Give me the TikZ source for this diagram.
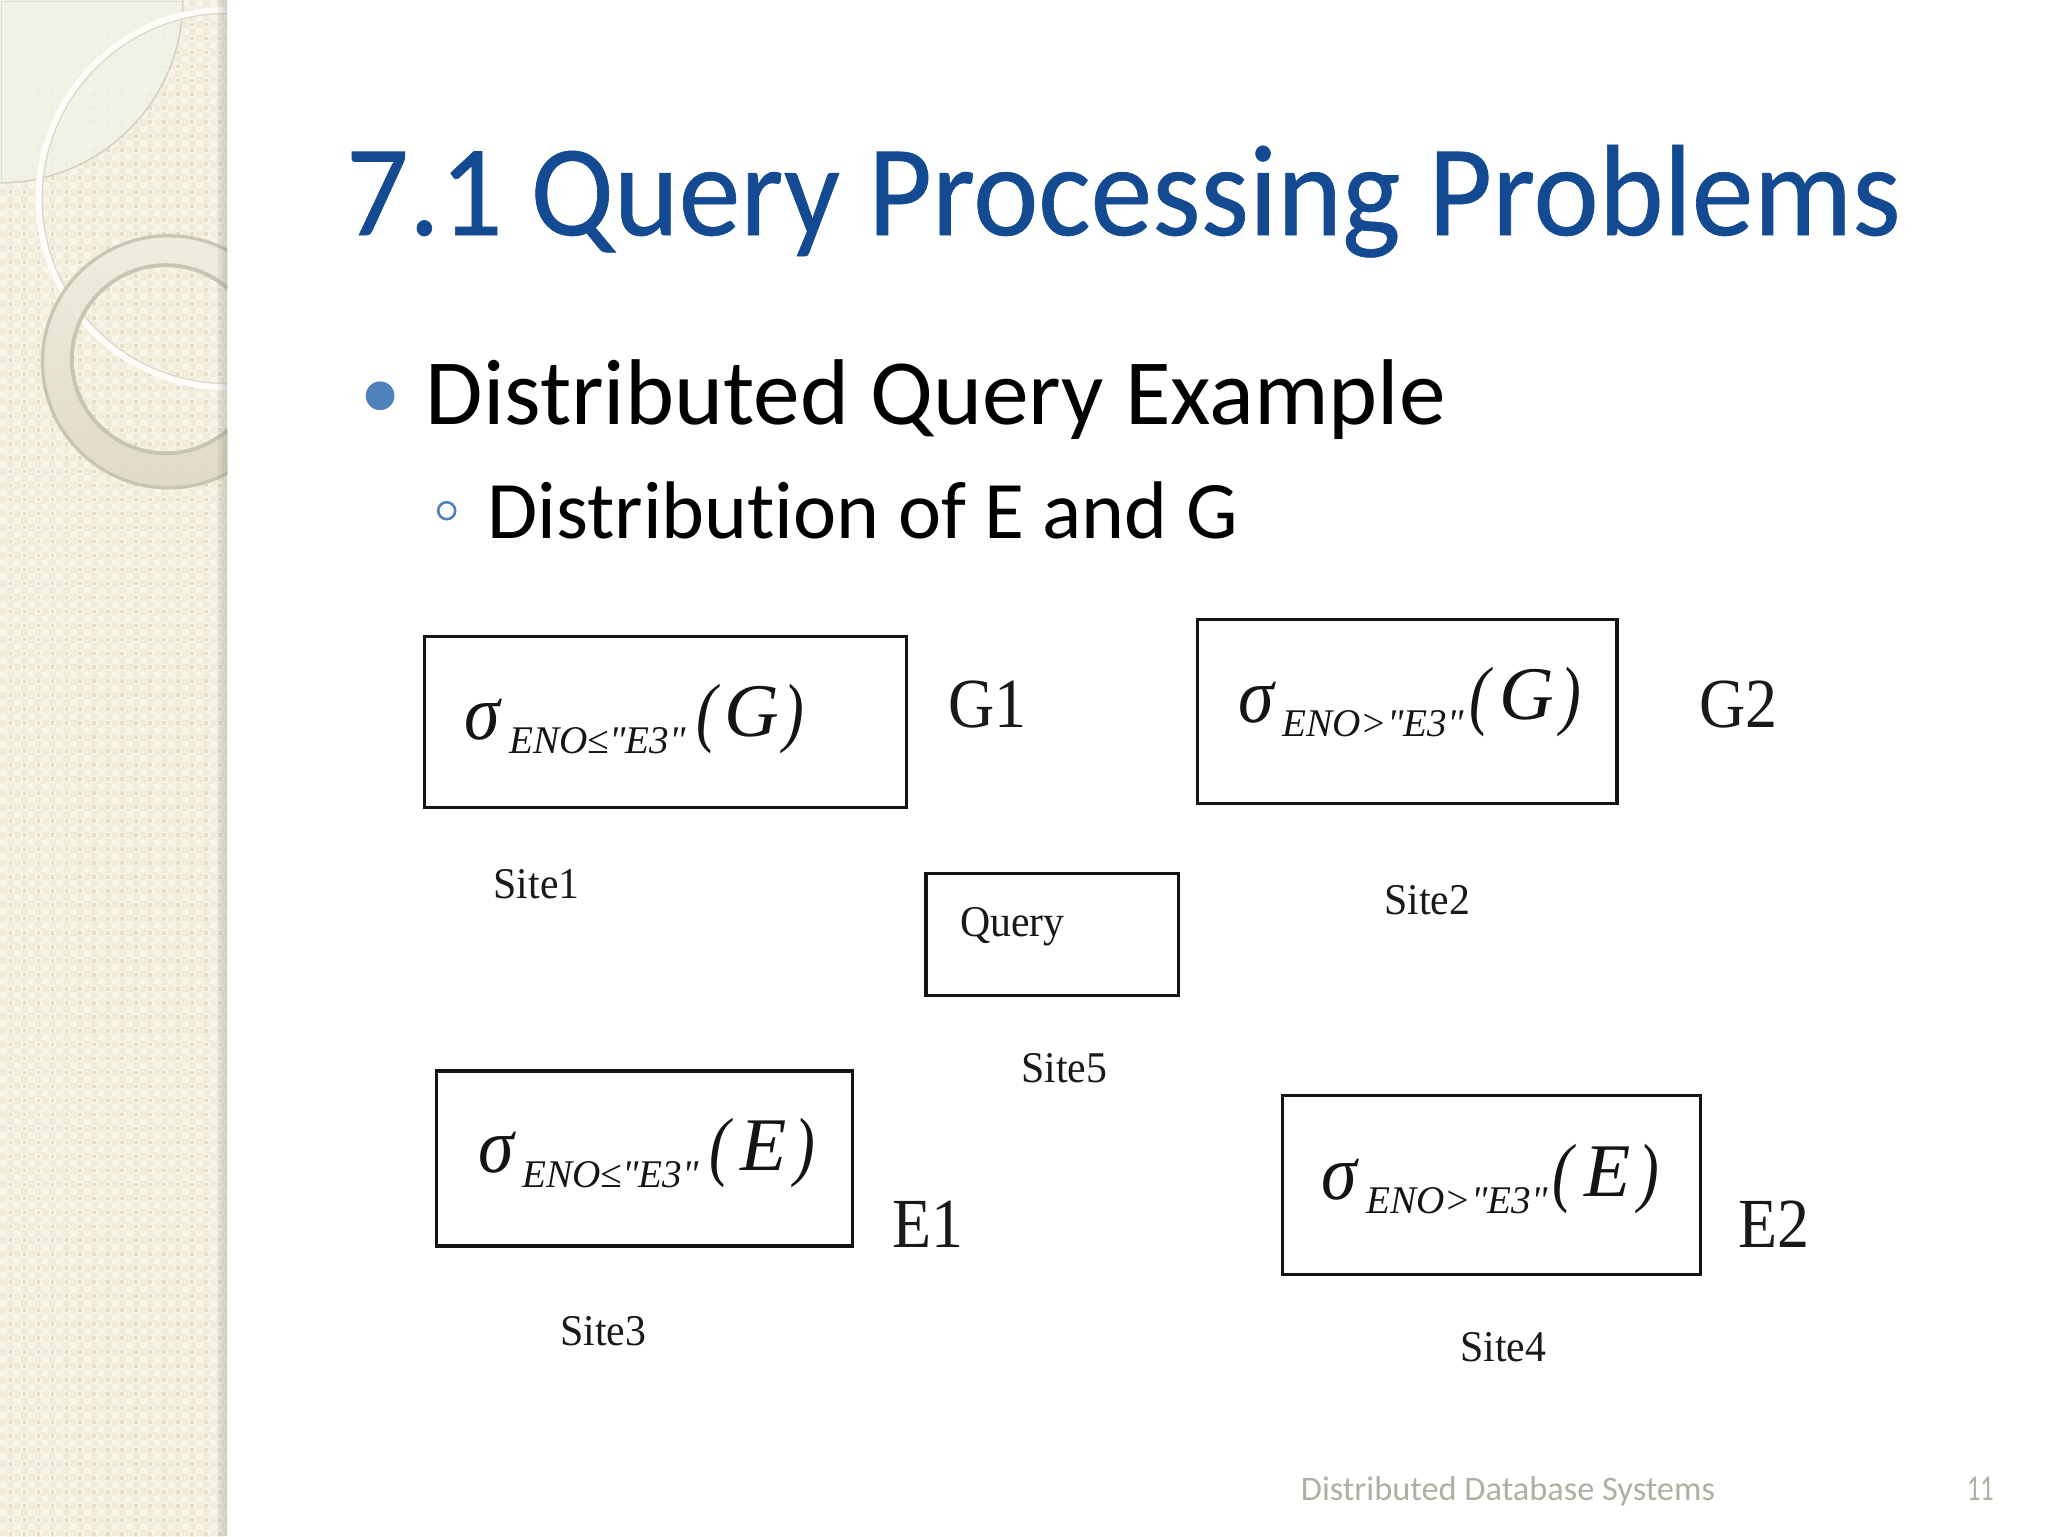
\documentclass[tikz,border=0pt]{standalone}
\usepackage{fontspec}
\usepackage{graphicx}
\setmainfont{Liberation Serif}
\newfontfamily\plainserif{Liberation Serif}
\newfontfamily\gill[Ligatures=NoCommon]{Carlito}
\newfontfamily\gillbold[Ligatures=NoCommon,FakeBold=0.5]{Carlito}
\definecolor{titleblue}{HTML}{144A92}
\definecolor{bulletblue}{HTML}{4F81BD}
\definecolor{footgray}{HTML}{B1AFA1}
\definecolor{bandbase}{HTML}{F1EBD9}
\definecolor{bandlight}{HTML}{F8F4E7}
\definecolor{banddark}{HTML}{E4DEC8}
\definecolor{ringedge}{HTML}{C8C6B3}
\definecolor{discfill}{HTML}{F0F3E7}
\newcommand{\selform}[4]{%
  \plainserif
  \makebox[34pt][l]{\raisebox{-2pt}{\scalebox{.92}[1]{\fontsize{60}{60}\selectfont\itshape σ}}}%
  \raisebox{-13pt}{\makebox[143pt][l]{\fontsize{30}{30}\selectfont\itshape #1}}%
  \raisebox{-1pt}{\scalebox{.85}[1.05]{\fontsize{56}{56}\selectfont\itshape (}}%
  \hspace{#3}{\fontsize{58}{58}\selectfont\itshape #2}\hspace{#4}%
  \raisebox{-1pt}{\scalebox{.85}[1.05]{\fontsize{56}{56}\selectfont\itshape )}}}
\tikzset{
  frame/.style={draw=black!92,line width=2.4pt,anchor=north west,inner sep=0pt,outer sep=0pt,fill=white},
  txt/.style={anchor=base west,inner sep=0pt,outer sep=0pt},
  sitelabel/.style={txt,font=\fontsize{32}{32}\selectfont,text=black!90},
  biglabel/.style={txt,font=\fontsize{49}{49}\selectfont,text=black!90},
  formula/.style={txt,text=black!92},
}
\newcommand{\tall}[1]{\scalebox{1}[1.1]{#1}}
\newcommand{\slight}[1]{\scalebox{1}[1.05]{#1}}
\begin{document}
\begin{tikzpicture}[x=1pt,y=-1pt]
\useasboundingbox (0,0) rectangle (1568,1176);
\fill[white] (0,0) rectangle (1568,1176);
% patterned band
\fill[bandbase] (0,0) rectangle (174,1176);
\begin{scope}
\clip (0,0) rectangle (174,1176);
\foreach \i in {0,...,16}{
  \foreach \j in {0,...,110}{
    \pgfmathsetmacro{\px}{\i*10.7}
    \pgfmathsetmacro{\py}{\j*10.7}
    \fill[bandlight] (\px,\py) rectangle ++(5.35,5.35);
    \fill[bandlight] (\px+5.35,\py+5.35) rectangle ++(5.35,5.35);
    \fill[banddark] (\px+6.6,\py+6.6) rectangle ++(2.8,2.8);
  }
}
% quarter disc, top-left
\fill[fill=discfill,fill opacity=.8] (0,0) -- (140,0) arc[start angle=0,end angle=90,radius=140] -- cycle;
\draw[ringedge!80,line width=1.2pt] (140,0) arc[start angle=0,end angle=90,radius=140];
\draw[ringedge!60,line width=1.2pt] (1,140) -- (1,1) -- (140,1);
% thin ring
\draw[ringedge!70,line width=1.2pt] (174,152) circle[radius=141.8];
\draw[color=white!80!bandlight,line width=4.5pt] (174,152) circle[radius=144.5];
% wide ring
\shade[even odd rule,top color=white!45!banddark,bottom color=banddark!95!gray,opacity=.92]
  (129,277) circle[radius=97] (127,275) circle[radius=72];
\draw[ringedge,line width=2.5pt] (129,277) circle[radius=96.5];
\draw[ringedge,line width=3pt] (127,275) circle[radius=72];
% edge shade
\foreach \k in {0,...,7}{
  \fill[gray,opacity=.045] (166+\k,0) rectangle (174,1176);
}
\end{scope}
% title
\node[txt,text=titleblue] (title) at (265,180) {\scalebox{1}[1.05]{\resizebox{1190pt}{!}{\gillbold\fontsize{92}{92}\selectfont 7.1 Query Processing Problems}}};
% bullets
\fill[bulletblue] (291,303) circle[radius=11];
\node[txt,text=black] (l1) at (326,325) {\resizebox{781pt}{!}{\gill\fontsize{68}{68}\selectfont Distributed Query Example}};
\draw[bulletblue,line width=2pt] (342,391) circle[radius=6.5];
\node[txt,text=black] (l2) at (373,412) {\resizebox{575pt}{!}{\gill\fontsize{60}{60}\selectfont Distribution of E and G}};
% boxes
\node[frame,minimum width=369pt,minimum height=131pt] (b1) at (325,487) {};
\node[frame,minimum width=321pt,minimum height=141pt] (b2) at (917,474) {};
\node[frame,minimum width=319pt,minimum height=134pt] (b3) at (334,820) {};
\node[frame,minimum width=320pt,minimum height=137pt] (b4) at (982,839) {};
\node[frame,minimum width=193pt,minimum height=93pt]  (q)  at (709,669) {};
% formulas
\node[formula] (f1) at (356,564) {\selform{ENO≤"E3"}{G}{6pt}{3pt}};
\node[formula] (f2) at (948,551) {\selform{ENO>"E3"}{G}{7pt}{5pt}};
\node[formula] (f3) at (366,896) {\selform{ENO≤"E3"}{E}{8pt}{6pt}};
\node[formula] (f4) at (1012,916) {\selform{ENO>"E3"}{E}{8pt}{6pt}};
% labels
\node[biglabel] (g1) at (726,557) {\tall{G1}};
\node[biglabel] (g2) at (1301,557) {\tall{G2}};
\node[biglabel] (e1) at (683,955) {\tall{E1}};
\node[biglabel] (e2) at (1331,955) {\tall{E2}};
\node[sitelabel] (s1) at (378,688) {\slight{Site1}};
\node[sitelabel] (s2) at (1060,700) {\slight{Site2}};
\node[sitelabel] (s3) at (429,1030) {\slight{Site3}};
\node[sitelabel] (s4) at (1118,1042) {\slight{Site4}};
\node[sitelabel] (s5) at (782,829) {\slight{Site5}};
\node[sitelabel] (qt) at (735,717) {\slight{Query}};
% footer
\node[txt,text=footgray] (foot) at (996,1149) {\resizebox{317pt}{!}{\gill\fontsize{28}{28}\selectfont Distributed Database Systems}};
\node[txt,text=footgray] (pg) at (1506,1149) {\scalebox{.72}[1]{\gill\fontsize{28}{28}\selectfont 11}};
\end{tikzpicture}
\end{document}
